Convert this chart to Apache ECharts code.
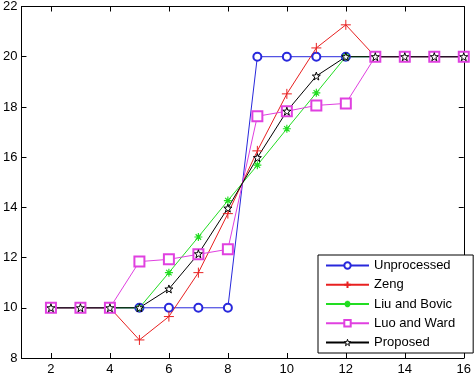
<!DOCTYPE html>
<html>
<head>
<meta charset="UTF-8">
<title>Comparison</title>
<script type="text/javascript" src="https://cdn.jsdelivr.net/npm/echarts@6/dist/echarts.min.js"></script>
<style>
  html, body { margin: 0; padding: 0; background: #fff; }
</style>
</head>
<body>
<div id="main" style="width: 474px;height:376px;"></div>
<script type="text/javascript">
// x positions of the samples
var xs = [2, 3, 4, 5, 6, 7, 8, 9, 10, 11, 12, 13, 14, 15, 16];

// series values
var unprocessed = [10, 10, 10, 10, 10, 10, 10, 20, 20, 20, 20, 20, 20, 20, 20];
var zeng        = [10, 10, 10, 8.72, 9.65, 11.4, 13.75, 16.25, 18.52, 20.35, 21.27, 20, 20, 20, 20];
var liuBovic    = [10, 10, 10, 10, 11.4, 12.82, 14.27, 15.68, 17.13, 18.56, 20, 20, 20, 20, 20];
var luoWard     = [10, 10, 10, 11.84, 11.93, 12.13, 12.33, 17.63, 17.83, 18.06, 18.14, 20, 20, 20, 20];
var proposed    = [10, 10, 10, 10, 10.75, 12.15, 13.97, 15.98, 17.83, 19.23, 20, 20, 20, 20, 20];

var xTicks = [2, 4, 6, 8, 10, 12, 14, 16];
var yTicks = [8, 10, 12, 14, 16, 18, 20, 22];

function pairs(vals) {
    return xs.map(function (x, i) { return [x, vals[i]]; });
}

var plusPath = 'path://M0,5L10,5M5,0L5,10';
var starPath = 'path://M0,5L10,5M5,0L5,10M1.6,1.6L8.4,8.4M1.6,8.4L8.4,1.6';
var pentaPath = 'path://M5,0L6.18,3.38L9.76,3.45L6.9,5.62L7.94,9.05L5,7L2.06,9.05L3.1,5.62L0.24,3.45L3.82,3.38Z';

var font = 'Liberation Sans, Arial, sans-serif';

var myChart = echarts.init(document.getElementById('main'));

function xAxisCfg(pos, showLabel) {
    return {
        type: 'value', position: pos, min: 1, max: 16,
        axisLine: { show: true, onZero: false, lineStyle: { color: '#000', width: 1 } },
        axisTick: { show: true, inside: true, length: 5, customValues: xTicks, lineStyle: { color: '#000' } },
        axisLabel: { show: showLabel, customValues: xTicks, color: '#000', fontSize: 13, fontFamily: font, margin: 5 },
        splitLine: { show: false }
    };
}
function yAxisCfg(pos, showLabel) {
    return {
        type: 'value', position: pos, min: 8, max: 22, interval: 2,
        axisLine: { show: true, onZero: false, lineStyle: { color: '#000', width: 1 } },
        axisTick: { show: true, inside: true, length: 5, lineStyle: { color: '#000' } },
        axisLabel: { show: showLabel, color: '#000', fontSize: 13, fontFamily: font, margin: 4 },
        splitLine: { show: false }
    };
}

function lineSeries(name, vals, color, symbol, size, itemStyle) {
    return {
        name: name, type: 'line', data: pairs(vals),
        symbol: symbol, symbolSize: size, showAllSymbol: true,
        lineStyle: { color: color, width: 1 },
        itemStyle: itemStyle,
        emphasis: { disabled: true },
        animation: false
    };
}

var option = {
    backgroundColor: '#fff',
    animation: false,
    grid: { left: 18, right: 7, top: 5, bottom: 18 },
    xAxis: [xAxisCfg('bottom', true), xAxisCfg('top', false)],
    yAxis: [yAxisCfg('left', true), yAxisCfg('right', false)],
    legend: {
        orient: 'vertical',
        left: 318, bottom: 23,
        padding: [4, 18, 4, 7],
        itemWidth: 43, itemHeight: 8, itemGap: 6.25, itemTextGap: 5,
        backgroundColor: '#fff', borderColor: '#000', borderWidth: 1, borderRadius: 0,
        textStyle: { color: '#000', fontSize: 13, fontFamily: font },
        data: ['Unprocessed', 'Zeng', 'Liu and Bovic', 'Luo and Ward',
            { name: 'Proposed', itemStyle: { color: '#fff', borderColor: '#000', borderWidth: 1 } }]
    },
    series: [
        lineSeries('Unprocessed', unprocessed, '#2828dc', 'emptyCircle', 8,
            { color: '#2828dc', borderWidth: 1 }),
        lineSeries('Zeng', zeng, '#e82020', plusPath, 10,
            { color: 'rgba(0,0,0,0)', borderColor: '#e82020', borderWidth: 1 }),
        lineSeries('Liu and Bovic', liuBovic, '#22dd22', starPath, 8,
            { color: 'rgba(0,0,0,0)', borderColor: '#22dd22', borderWidth: 1.2 }),
        lineSeries('Luo and Ward', luoWard, '#e040e0', 'emptyRect', 10,
            { color: '#e040e0', borderWidth: 1 }),
        lineSeries('Proposed', proposed, '#000000', pentaPath, 8,
            { color: '#fff', borderColor: '#000', borderWidth: 1 })
    ]
};

myChart.setOption(option);
</script>
</body>
</html>
